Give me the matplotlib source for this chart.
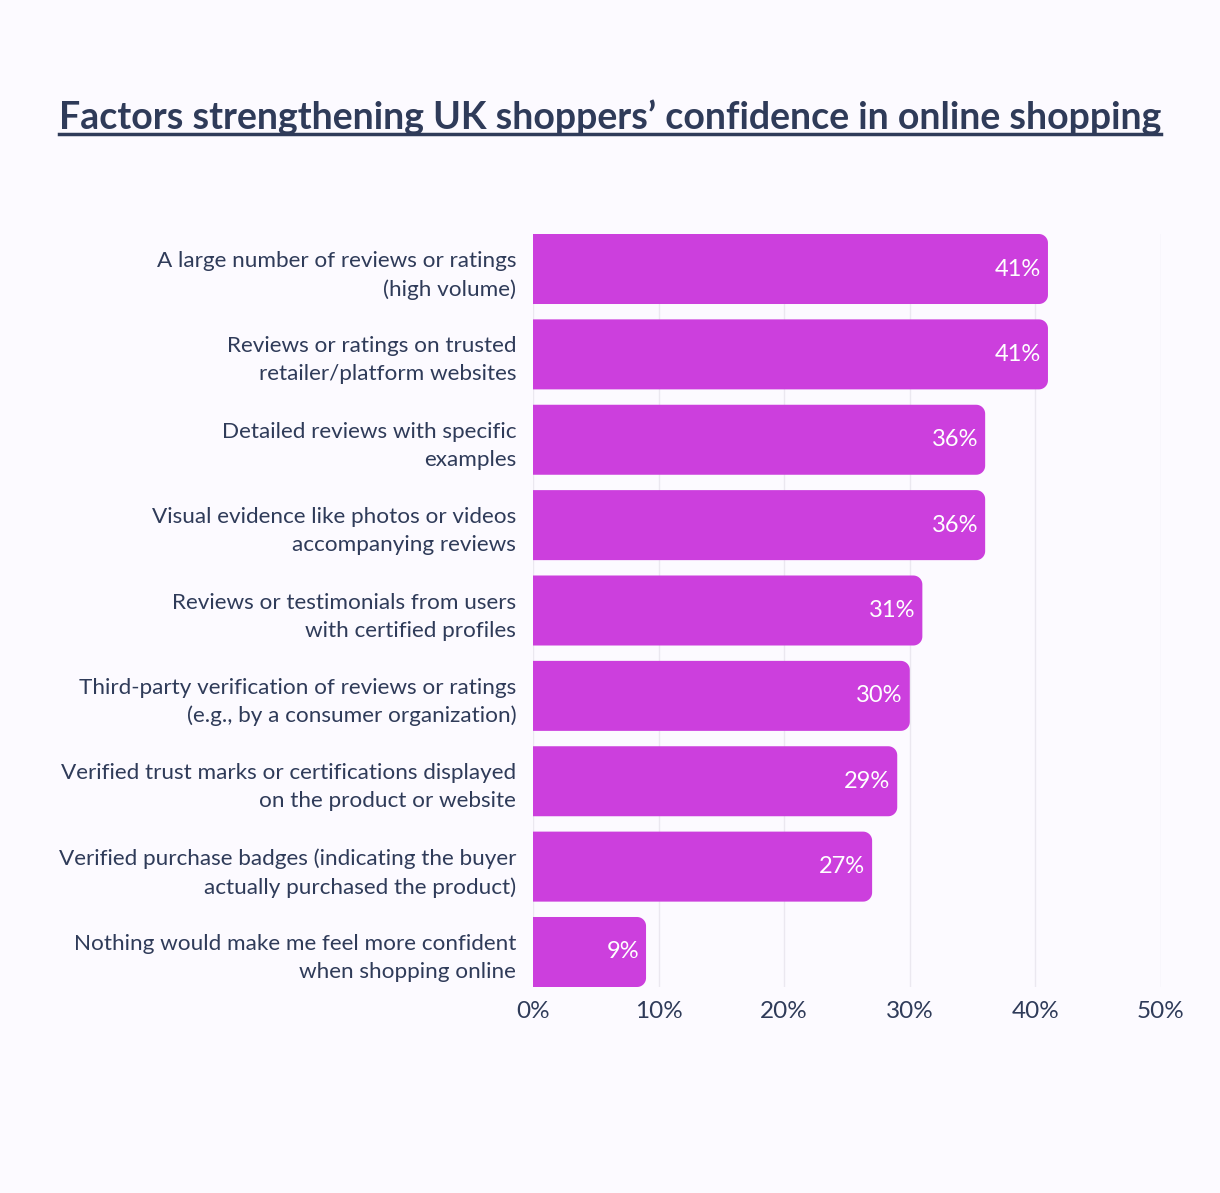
import numpy as np
import matplotlib
matplotlib.use("Agg")
import matplotlib.pyplot as plt
from matplotlib.patches import Polygon
from matplotlib.lines import Line2D

categories = [
    "A large number of reviews or ratings\n(high volume)",
    "Reviews or ratings on trusted\nretailer/platform websites",
    "Detailed reviews with specific\nexamples",
    "Visual evidence like photos or videos\naccompanying reviews",
    "Reviews or testimonials from users\nwith certified profiles",
    "Third-party verification of reviews or ratings\n(e.g., by a consumer organization)",
    "Verified trust marks or certifications displayed\non the product or website",
    "Verified purchase badges (indicating the buyer\nactually purchased the product)",
    "Nothing would make me feel more confident\nwhen shopping online",
]
values = [41, 41, 36, 36, 31, 30, 29, 27, 9]
xticks = [0, 10, 20, 30, 40, 50]
title = "Factors strengthening UK shoppers\u2019 confidence in online shopping"

BG = "#fcfaff"
BAR = "#cc3fdd"
TXT = "#2f3b59"
GRID = "#ebe8f0"
FONT = ["Lato", "DejaVu Sans"]

W, H = 1220, 1193
fig = plt.figure(figsize=(W / 100, H / 100), dpi=100, facecolor=BG)
left, right = 533 / W, 1161 / W
top, bottom = 1 - 234 / H, 1 - 987 / H
ax = fig.add_axes([left, bottom, right - left, top - bottom], facecolor=BG)

bh = 0.82
n = len(values)
ax.set_xlim(0, 50)
ax.set_ylim(n - 1 + bh / 2, -bh / 2)

px_x = (right - left) * W / 50.0
px_y = (top - bottom) * H / (n - 1 + bh)
r_px = 9
rx = r_px / px_x
ry = r_px / px_y

for x in xticks:
    ax.axvline(x, color=GRID, lw=1, zorder=0)

def bar_shape(v, yc):
    y0, y1 = yc - bh / 2, yc + bh / 2
    pts = [(0, y0), (v - rx, y0)]
    for a in np.linspace(-np.pi / 2, 0, 12):
        pts.append((v - rx + rx * np.cos(a), y0 + ry + ry * np.sin(a)))
    for a in np.linspace(0, np.pi / 2, 12):
        pts.append((v - rx + rx * np.cos(a), y1 - ry + ry * np.sin(a)))
    pts.append((0, y1))
    return pts

bars = ax.barh(range(n), values, height=bh, color="none")
for i, (b, v) in enumerate(zip(bars, values)):
    yc = b.get_y() + b.get_height() / 2
    ax.add_patch(Polygon(bar_shape(b.get_width(), yc), closed=True,
                         fc=BAR, ec="none", zorder=2))
    ax.text(v - 7 / px_x, i, f"{v}%", color="white", ha="right", va="center",
            fontsize=17, family=FONT, zorder=3)

ax.set_yticks(range(n))
ax.set_yticklabels(categories, fontsize=16.2, family=FONT, color=TXT, linespacing=1.5)
ax.set_xticks(xticks)
ax.set_xticklabels([f"{x}%" for x in xticks], fontsize=17.5, family=FONT, color=TXT)
ax.tick_params(axis="y", length=0, pad=12)
ax.tick_params(axis="x", length=0, pad=10)
for s in ax.spines.values():
    s.set_visible(False)

t = fig.text(0.5, 1 - 117 / H, title, ha="center", va="center",
             fontsize=27, fontweight="bold", family=FONT, color=TXT)
fig.canvas.draw()
bb = t.get_window_extent(fig.canvas.get_renderer())
uy = (1193 - 134) / H
fig.add_artist(Line2D([bb.x0 / W, bb.x1 / W], [uy, uy], transform=fig.transFigure,
                      color=TXT, lw=2.5))

fig.savefig("out.png", dpi=100, facecolor=BG)
